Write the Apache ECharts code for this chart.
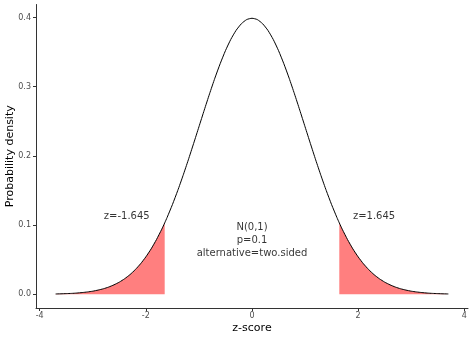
<!DOCTYPE html>
<html><head><meta charset="utf-8">
<script src="https://cdn.jsdelivr.net/npm/echarts@6/dist/echarts.min.js"></script>
<style>html,body{margin:0;padding:0;background:#fff}#c{width:474px;height:338px}</style>
</head><body><div id="c"></div>
<script>
// Curve (standard normal density)
var zScores = [-3.7,-3.6,-3.5,-3.4,-3.3,-3.2,-3.1,-3.0,-2.9,-2.8,-2.7,-2.6,-2.5,-2.4,-2.3,-2.2,-2.1,-2.0,-1.9,-1.8,-1.7,-1.645,-1.6,-1.5,-1.4,-1.3,-1.2,-1.1,-1.0,-0.9,-0.8,-0.7,-0.6,-0.5,-0.4,-0.3,-0.2,-0.1,0.0,0.1,0.2,0.3,0.4,0.5,0.6,0.7,0.8,0.9,1.0,1.1,1.2,1.3,1.4,1.5,1.6,1.645,1.7,1.8,1.9,2.0,2.1,2.2,2.3,2.4,2.5,2.6,2.7,2.8,2.9,3.0,3.1,3.2,3.3,3.4,3.5,3.6,3.7];
var density = [0.0004,0.0006,0.0009,0.0012,0.0017,0.0024,0.0033,0.0044,0.0060,0.0079,0.0104,0.0136,0.0175,0.0224,0.0283,0.0355,0.0440,0.0540,0.0656,0.0790,0.0940,0.1031,0.1109,0.1295,0.1497,0.1714,0.1942,0.2179,0.2420,0.2661,0.2897,0.3123,0.3332,0.3521,0.3683,0.3814,0.3910,0.3970,0.3989,0.3970,0.3910,0.3814,0.3683,0.3521,0.3332,0.3123,0.2897,0.2661,0.2420,0.2179,0.1942,0.1714,0.1497,0.1295,0.1109,0.1031,0.0940,0.0790,0.0656,0.0540,0.0440,0.0355,0.0283,0.0224,0.0175,0.0136,0.0104,0.0079,0.0060,0.0044,0.0033,0.0024,0.0017,0.0012,0.0009,0.0006,0.0004];
var criticalZ = 1.645;
var xTicks = [-4,-2,0,2,4];
var yTicks = [0,0.1,0.2,0.3,0.4];
var annotationX = [-2.36, 2.30, 0];
var annotationY = [0.113, 0.113, 0.078];
var annotationText = ['z=-1.645', 'z=1.645', 'N(0,1)\np=0.1\nalternative=two.sided'];

var curve = zScores.map(function(z,i){return [z, density[i]];});
var leftTail = curve.filter(function(p){return p[0] <= -criticalZ + 1e-9;});
var rightTail = curve.filter(function(p){return p[0] >= criticalZ - 1e-9;});
var notes = annotationX.map(function(x,i){return {value:[x, annotationY[i]], label:{formatter: annotationText[i]}};});

var FONT = 'DejaVu Sans';
var chart = echarts.init(document.getElementById('c'), null, {renderer:'canvas'});
var axisCommon = {
  axisLine:{show:true, onZero:false, lineStyle:{color:'#333', width:1}},
  splitLine:{show:false},
  nameMoveOverlap:false,
  nameTextStyle:{fontFamily:FONT, fontSize:11, color:'#000'}
};
chart.setOption({
  animation:false,
  backgroundColor:'#fff',
  grid:{left:36, right:6, top:4.5, bottom:30, containLabel:false, outerBoundsMode:'none'},
  xAxis: Object.assign({}, axisCommon, {
    type:'value', min:-4.07, max:4.07,
    name:'z-score', nameLocation:'middle', nameGap:15,
    axisTick:{show:true, length:3, customValues:xTicks, lineStyle:{color:'#333', width:1}},
    axisLabel:{customValues:xTicks, margin:4, fontFamily:FONT, fontSize:8, color:'#4d4d4d',
      formatter:function(v){return String(v);}}
  }),
  yAxis: Object.assign({}, axisCommon, {
    type:'value', min:-0.0199, max:0.4188,
    name:'Probability density', nameLocation:'middle', nameGap:20, nameRotate:90,
    axisTick:{show:true, length:3, customValues:yTicks, lineStyle:{color:'#333', width:1}},
    axisLabel:{customValues:yTicks, margin:5, fontFamily:FONT, fontSize:8, color:'#4d4d4d',
      formatter:function(v){return v.toFixed(1);}}
  }),
  series:[
    {type:'line', data:leftTail, showSymbol:false, lineStyle:{width:0}, areaStyle:{color:'#FF7F7F', opacity:1, origin:0}, z:1},
    {type:'line', data:rightTail, showSymbol:false, lineStyle:{width:0}, areaStyle:{color:'#FF7F7F', opacity:1, origin:0}, z:1},
    {type:'line', data:curve, showSymbol:false, smooth:0.2, lineStyle:{color:'#000', width:1}, z:3},
    {type:'scatter', data:notes, symbolSize:0, z:4,
      label:{show:true, position:'inside', fontFamily:FONT, fontSize:10, color:'#000', lineHeight:13, align:'center', verticalAlign:'middle'}}
  ]
});
</script></body></html>
